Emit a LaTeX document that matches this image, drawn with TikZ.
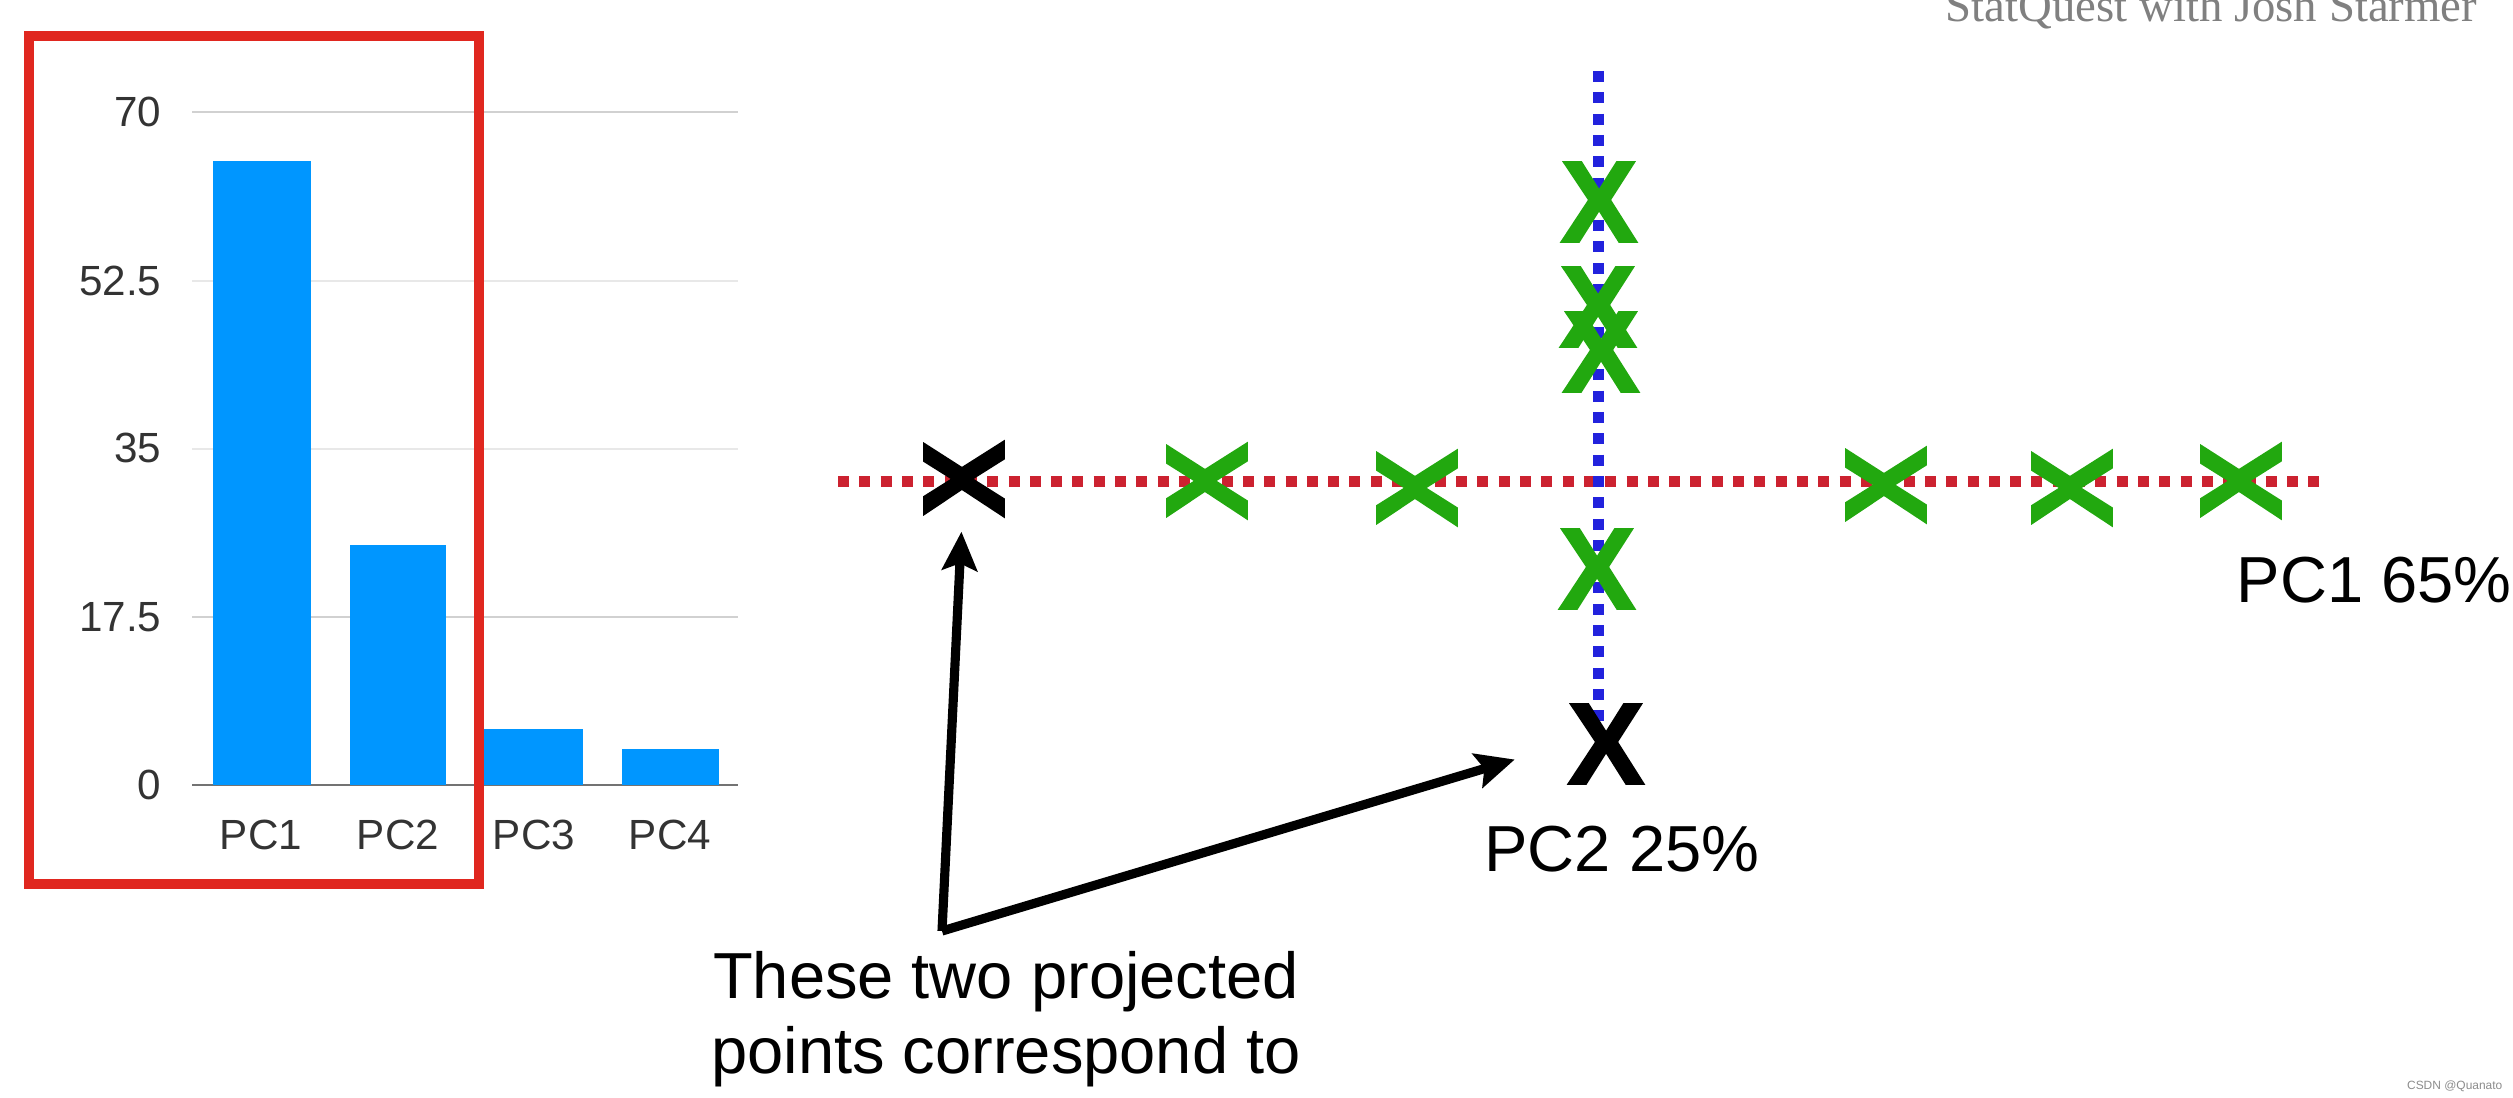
\documentclass[tikz,border=0pt]{standalone}
\usepackage{fontspec}
\setmainfont{Liberation Sans}
\newfontfamily\markfont[BoldFeatures={FakeBold=1.5}]{Liberation Sans}
\newfontfamily\logofont{Liberation Serif}
\usetikzlibrary{arrows.meta}
\definecolor{barblue}{HTML}{0096FF}
\definecolor{boxred}{HTML}{E0271F}
\definecolor{dotred}{HTML}{CC2230}
\definecolor{dotblue}{HTML}{2222DD}
\definecolor{markgreen}{HTML}{22A80F}
\definecolor{labelgray}{HTML}{333333}
\begin{document}
\begin{tikzpicture}[x=0.01cm,y=-0.01cm,
	gridline/.style={line width=0.4pt,color=black!18},
	gridfaint/.style={line width=0.4pt,color=black!9},
	bar/.style={fill=barblue},
	ticklabel/.style={anchor=base east,inner sep=0pt,text=labelgray,font=\fontsize{12}{14}\selectfont},
	pclabel/.style={anchor=base,inner sep=0pt,text=labelgray,font=\fontsize{12}{14}\selectfont},
	biglabel/.style={inner sep=0pt,font=\fontsize{18.5}{21.4}\selectfont},
	dots/.style={line width=3.13pt,dash pattern=on 3.13pt off 2.93pt},
	projmark/.style={inner sep=0pt,font=\markfont\bfseries\fontsize{33}{33}\selectfont},
	pointer/.style={line width=2.6pt,-{Stealth[length=11pt,width=10pt,inset=2pt]}}]
				\useasboundingbox (0,0) rectangle (2513,1098);
				%Nodes
				\coordinate      (g0) 	at 	(192,785);
				\coordinate      (g1) 	at 	(192,617);
				\coordinate      (g2) 	at 	(192,449);
				\coordinate      (g3) 	at 	(192,281);
				\coordinate      (g4) 	at 	(192,112);
				\coordinate      (e0) 	at 	(738,785);
				\coordinate      (e1) 	at 	(738,617);
				\coordinate      (e2) 	at 	(738,449);
				\coordinate      (e3) 	at 	(738,281);
				\coordinate      (e4) 	at 	(738,112);
				\coordinate      (apex) 	at 	(942,931);
				\coordinate      (redstart) 	at 	(838,482);
				\coordinate      (redend) 	at 	(2329,482);
				\coordinate      (bluestart) 	at 	(1598,71);
				\coordinate      (blueend) 	at 	(1598,722);

				\node[ticklabel] (t4) at (162,127) {70};
				\node[ticklabel] (t3) at (162,296) {52.5};
				\node[ticklabel] (t2) at (162,463) {35};
				\node[ticklabel] (t1) at (162,632) {17.5};
				\node[ticklabel] (t0) at (162,800) {0};
				\node[pclabel] (pc1) at (261,850) {PC1};
				\node[pclabel] (pc2) at (398,850) {PC2};
				\node[pclabel] (pc3) at (534,850) {PC3};
				\node[pclabel] (pc4) at (670,850) {PC4};
				\node[anchor=base west,inner sep=0pt,text=black!50,font=\logofont\fontsize{13.3}{16}\selectfont] (logo) at (1945,21.5) {StatQuest with Josh Starmer};
				\node[anchor=base east,inner sep=0pt,text=black!45,font=\fontsize{3.4}{4}\selectfont] (csdn) at (2503,1089) {CSDN @Quanato};

				%Chart
				\draw[gridline] (g4) -- (e4);
				\draw[gridfaint] (g3) -- (e3);
				\draw[gridfaint] (g2) -- (e2);
				\draw[gridline] (g1) -- (e1);
				\draw[line width=0.4pt,color=black!55] (g0) -- (e0);
				\fill[bar] (213,785) rectangle (311,161);
				\fill[bar] (350,785) rectangle (446,545);
				\fill[bar] (484,785) rectangle (583,729);
				\fill[bar] (622,785) rectangle (719,749);
				\draw[line width=3pt,color=boxred] (29,36) rectangle (479,884);

				%Lines
				\draw[dots,color=dotred] (redstart) -- (redend);
				\draw[dots,color=dotblue] (bluestart) -- (blueend);

				%Marks
				\node[projmark,rotate=90] (blackh) at (964,479) {X};
				\node[projmark,rotate=90,text=markgreen] (h1) at (1207,481) {X};
				\node[projmark,rotate=90,text=markgreen] (h2) at (1417,488) {X};
				\node[projmark,rotate=90,text=markgreen] (h3) at (1886,485) {X};
				\node[projmark,rotate=90,text=markgreen] (h4) at (2072,488) {X};
				\node[projmark,rotate=90,text=markgreen] (h5) at (2241,481) {X};
				\node[projmark,text=markgreen] (v1) at (1599,202) {X};
				\node[projmark,text=markgreen] (v2) at (1598,307) {X};
				\node[projmark,text=markgreen] (v3) at (1601,352) {X};
				\node[projmark,text=markgreen] (v4) at (1597,569) {X};
				\node[projmark] (blackv) at (1606,744) {X};

				\node[biglabel,anchor=base west] (pc1label) at (2236,603) {PC1 65\%};
				\node[biglabel,anchor=base] (pc2label) at (1622,871) {PC2 25\%};
				\node[biglabel,align=center] (note) at (1006,1019) {These two projected\\points correspond to};

				%Arrows
				\draw[pointer,shorten >=15pt] (apex) -- (blackh.center);
				\draw[pointer,shorten >=15.4pt] (apex) -- (blackv.west);
		\end{tikzpicture}
\end{document}
